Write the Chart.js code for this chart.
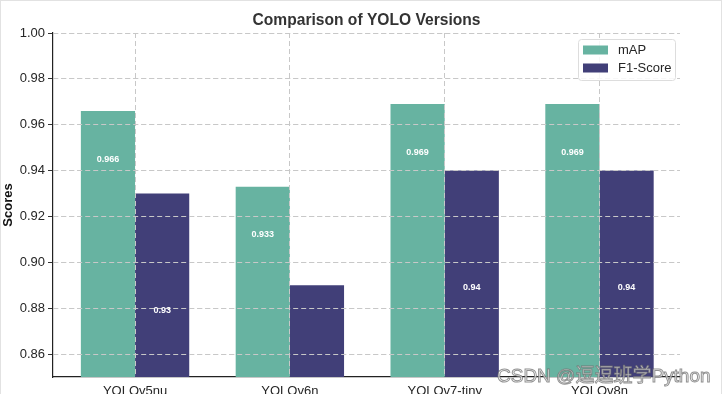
<!DOCTYPE html>
<html>
<head>
<meta charset="utf-8">
<script src="https://cdn.jsdelivr.net/npm/chart.js@4.4.1/dist/chart.umd.min.js"></script>
<style>
    body { margin: 0; background: #fff; }
    #wrap { position: relative; width: 724px; height: 394px; overflow: hidden; }
    #frame { position: absolute; left: 0; top: 0; width: 720px; height: 400px; border: 1px solid #e2e2e2; pointer-events: none; }
</style>
</head>
<body>
<div id="wrap">
    <canvas id="chart" width="724" height="410"></canvas>
    <div id="frame"></div>
</div>
<script>
// data
let versions = ['YOLOv5nu', 'YOLOv6n', 'YOLOv7-tiny', 'YOLOv8n']
let mapScores = [0.966, 0.933, 0.969, 0.969]
let f1Scores = [0.93, 0.89, 0.94, 0.94]
let yTicks = [0.86, 0.88, 0.90, 0.92, 0.94, 0.96, 0.98, 1.00]

let tealColor = '#67b3a1'
let navyColor = '#413f78'
let gridColor = '#c8c8c8'
let textColor = '#262626'
let fontFam = '"Liberation Sans", Arial, sans-serif'

// grid drawn again over the bars, like the original
const gridOnTop = {
    id: 'gridOnTop',
    afterDatasetsDraw(chart) {
        chart.scales.x.drawGrid(chart.chartArea)
        chart.scales.y.drawGrid(chart.chartArea)
    }
}

// value text inside bars
const barLabels = {
    id: 'barLabels',
    afterDatasetsDraw(chart) {
        let ctx = chart.ctx
        let y = chart.scales.y
        let drop = [0.021, 0.051]
        ctx.save()
        ctx.fillStyle = '#ffffff'
        ctx.font = 'bold 9px ' + fontFam
        ctx.textAlign = 'center'
        ctx.textBaseline = 'middle'
        chart.data.datasets.forEach((ds, i) => {
            let meta = chart.getDatasetMeta(i)
            meta.data.forEach((bar, j) => {
                let v = ds.data[j].y
                ctx.fillText(String(v), bar.x, y.getPixelForValue(v - drop[i]))
            })
        })
        ctx.restore()
    }
}

// title over the plot area, matplotlib-style legend, watermark
const decorations = {
    id: 'decorations',
    afterDraw(chart) {
        let ctx = chart.ctx
        let area = chart.chartArea
        ctx.save()
        ctx.fillStyle = '#333'
        ctx.font = 'bold 15.6px ' + fontFam
        ctx.textAlign = 'center'
        ctx.textBaseline = 'middle'
        ctx.fillText('Comparison of YOLO Versions', (area.left + area.right) / 2, 21)

        let bx = area.right - 102, by = area.top + 6, bw = 97, bh = 41
        ctx.fillStyle = 'rgba(255,255,255,0.85)'
        ctx.strokeStyle = '#dddddd'
        ctx.lineWidth = 1
        ctx.beginPath()
        ctx.roundRect(bx + 0.5, by + 0.5, bw, bh, 3)
        ctx.fill()
        ctx.stroke()
        ctx.font = '13px ' + fontFam
        ctx.textAlign = 'left'
        chart.data.datasets.forEach((ds, i) => {
            let cy = by + 11 + i * 18
            ctx.fillStyle = ds.backgroundColor
            ctx.fillRect(bx + 5, cy - 4.5, 25, 9)
            ctx.fillStyle = textColor
            ctx.fillText(ds.label, bx + 40, cy)
        })

        // watermark
        ctx.font = '19px "Liberation Sans", Arial, "Noto Sans CJK SC", sans-serif'
        ctx.textBaseline = 'alphabetic'
        ctx.strokeStyle = 'rgba(110,110,110,0.75)'
        ctx.fillStyle = 'rgba(255,255,255,0.8)'
        ctx.fillText('CSDN @逗逗班学Python', 497, 382)
        ctx.strokeText('CSDN @逗逗班学Python', 497, 382)
        ctx.restore()
    }
}

let ctx = document.getElementById('chart').getContext('2d')
let myChart = new Chart(ctx, {
    type: 'bar',
    data: {
        datasets: [
            {
                label: 'mAP',
                data: mapScores.map((v, i) => ({ x: i, y: v })),
                backgroundColor: tealColor,
                categoryPercentage: 0.7,
                barPercentage: 1.0
            },
            {
                label: 'F1-Score',
                data: f1Scores.map((v, i) => ({ x: i, y: v })),
                backgroundColor: navyColor,
                categoryPercentage: 0.7,
                barPercentage: 1.0
            }
        ]
    },
    options: {
        responsive: false,
        animation: false,
        layout: {
            padding: { left: 0, right: 44, top: 33, bottom: 0 }
        },
        scales: {
            x: {
                type: 'linear',
                min: -0.53,
                max: 3.52,
                offset: false,
                afterFit: (s) => { s.height = 33 },
                afterBuildTicks: (s) => { s.ticks = versions.map((v, i) => ({ value: i })) },
                grid: {
                    offset: false,
                    color: gridColor,
                    drawTicks: false
                },
                border: { display: true, color: '#222', width: 1.2, dash: [5, 3] },
                ticks: {
                    color: textColor,
                    padding: 7,
                    font: { size: 13, family: fontFam },
                    callback: (v) => versions[v]
                }
            },
            y: {
                min: 0.85,
                max: 1.0,
                afterFit: (s) => { s.width = 53 },
                afterBuildTicks: (s) => { s.ticks = yTicks.map(v => ({ value: v })) },
                grid: {
                    color: gridColor,
                    tickLength: 5,
                    tickColor: '#333',
                    tickBorderDash: []
                },
                border: { display: true, color: '#222', width: 1.2, dash: [5, 3] },
                ticks: {
                    color: textColor,
                    padding: 3,
                    font: { size: 13, family: fontFam },
                    callback: (v) => Number(v).toFixed(2)
                },
                title: {
                    display: true,
                    text: 'Scores',
                    color: '#111',
                    padding: 1,
                    font: { size: 13, weight: 'bold', family: fontFam }
                }
            }
        },
        plugins: {
            legend: { display: false },
            tooltip: { enabled: false },
            title: { display: false }
        }
    },
    plugins: [gridOnTop, barLabels, decorations]
});
</script>
</body>
</html>
